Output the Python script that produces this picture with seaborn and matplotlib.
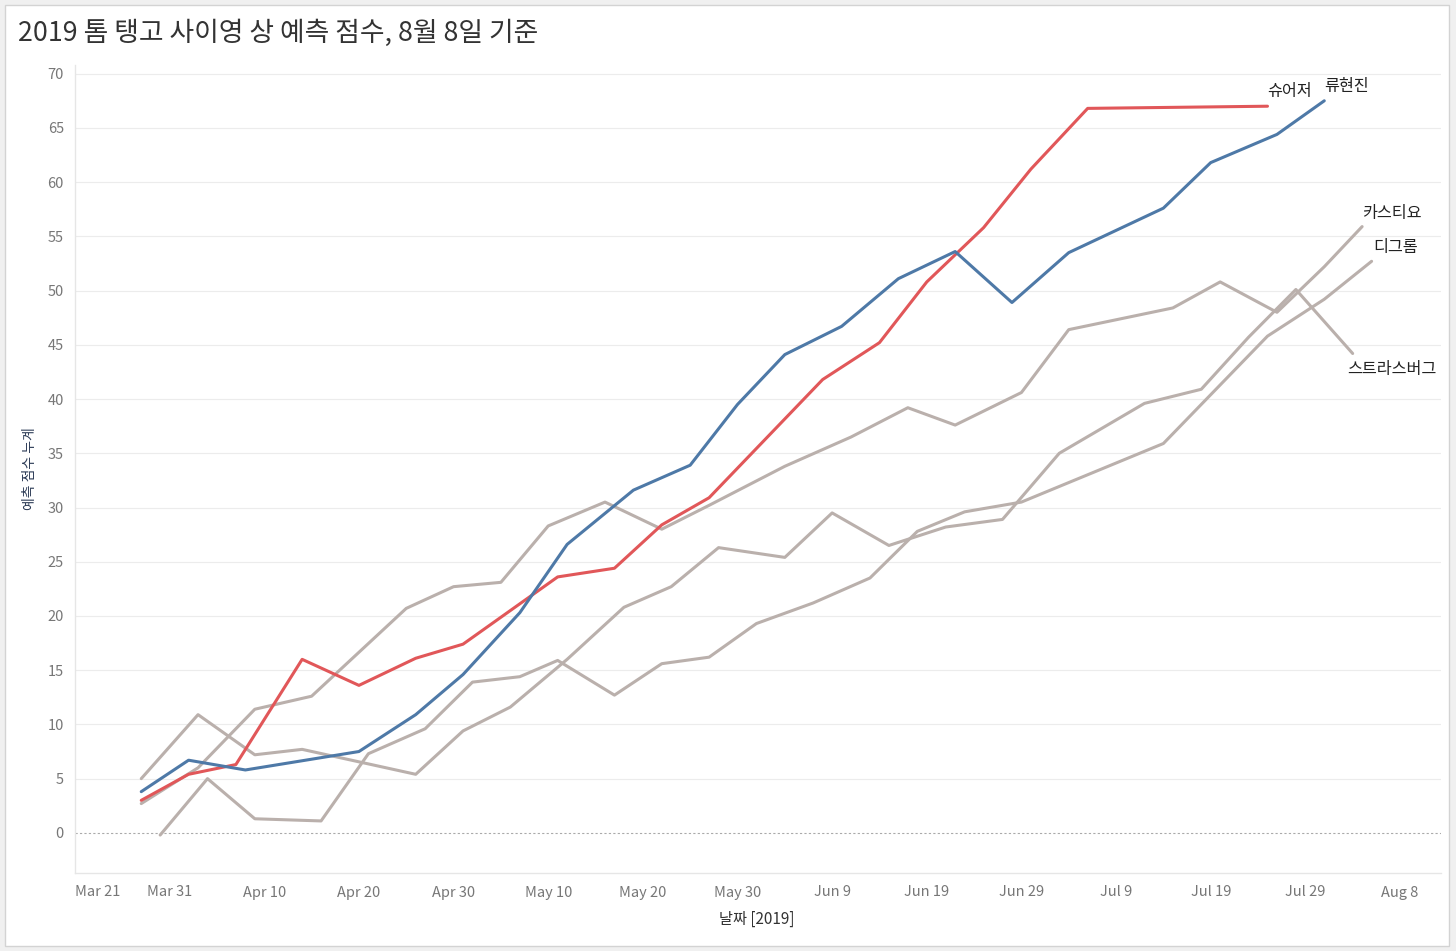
import pandas as pd
import numpy as np
import matplotlib
matplotlib.use("Agg")
import matplotlib.pyplot as plt
import matplotlib.dates as mdates
import seaborn as sns
from matplotlib.patches import Rectangle

# Data (cumulative Cy Young predictor score)
ryu_dates = ["2019-03-28", "2019-04-02", "2019-04-08", "2019-04-20", "2019-04-26", "2019-05-01",
             "2019-05-07", "2019-05-12", "2019-05-19", "2019-05-25", "2019-05-30", "2019-06-04",
             "2019-06-10", "2019-06-16", "2019-06-22", "2019-06-28", "2019-07-04", "2019-07-14",
             "2019-07-19", "2019-07-26", "2019-07-31"]
ryu_scores = [3.8, 6.7, 5.8, 7.5, 10.9, 14.6, 20.3, 26.6, 31.6, 33.9, 39.5, 44.1,
              46.7, 51.1, 53.6, 48.9, 53.5, 57.6, 61.8, 64.4, 67.5]

scherzer_dates = ["2019-03-28", "2019-04-02", "2019-04-07", "2019-04-14", "2019-04-20", "2019-04-26",
                  "2019-05-01", "2019-05-11", "2019-05-17", "2019-05-22", "2019-05-27", "2019-06-08",
                  "2019-06-14", "2019-06-19", "2019-06-25", "2019-06-30", "2019-07-06", "2019-07-25"]
scherzer_scores = [3.0, 5.4, 6.3, 16.0, 13.6, 16.1, 17.4, 23.6, 24.4, 28.4, 30.9, 41.8,
                   45.2, 50.8, 55.8, 61.2, 66.8, 67.0]

castillo_dates = ["2019-03-28", "2019-04-03", "2019-04-09", "2019-04-15", "2019-04-25", "2019-04-30",
                  "2019-05-05", "2019-05-10", "2019-05-16", "2019-05-22", "2019-05-27", "2019-06-04",
                  "2019-06-11", "2019-06-17", "2019-06-22", "2019-06-29", "2019-07-04", "2019-07-15",
                  "2019-07-20", "2019-07-26", "2019-07-31", "2019-08-04"]
castillo_scores = [2.7, 6.0, 11.4, 12.6, 20.7, 22.7, 23.1, 28.3, 30.5, 28.0, 30.2, 33.8,
                   36.5, 39.2, 37.6, 40.6, 46.4, 48.4, 50.8, 48.0, 52.2, 55.9]

degrom_dates = ["2019-03-30", "2019-04-04", "2019-04-09", "2019-04-16", "2019-04-21", "2019-04-27",
                "2019-05-02", "2019-05-07", "2019-05-11", "2019-05-17", "2019-05-22", "2019-05-27",
                "2019-06-01", "2019-06-07", "2019-06-13", "2019-06-18", "2019-06-23", "2019-06-29",
                "2019-07-14", "2019-07-25", "2019-07-31", "2019-08-05"]
degrom_scores = [-0.2, 5.0, 1.3, 1.1, 7.3, 9.6, 13.9, 14.4, 15.9, 12.7, 15.6, 16.2,
                 19.3, 21.2, 23.5, 27.8, 29.6, 30.5, 35.9, 45.8, 49.2, 52.7]

strasburg_dates = ["2019-03-28", "2019-04-03", "2019-04-09", "2019-04-14", "2019-04-26", "2019-05-01",
                   "2019-05-06", "2019-05-12", "2019-05-18", "2019-05-23", "2019-05-28", "2019-06-04",
                   "2019-06-09", "2019-06-15", "2019-06-21", "2019-06-27", "2019-07-03", "2019-07-12",
                   "2019-07-18", "2019-07-23", "2019-07-28", "2019-08-03"]
strasburg_scores = [5.0, 10.9, 7.2, 7.7, 5.4, 9.4, 11.6, 16.0, 20.8, 22.7, 26.3, 25.4,
                    29.5, 26.5, 28.2, 28.9, 35.0, 39.6, 40.9, 45.7, 50.1, 44.2]

pitchers = ["카스티요", "디그롬", "스트라스버그", "슈어저", "류현진"]
series = {
    "류현진": (ryu_dates, ryu_scores),
    "슈어저": (scherzer_dates, scherzer_scores),
    "카스티요": (castillo_dates, castillo_scores),
    "디그롬": (degrom_dates, degrom_scores),
    "스트라스버그": (strasburg_dates, strasburg_scores),
}
palette = {"류현진": "#4e79a7", "슈어저": "#e15759",
           "카스티요": "#bab0ac", "디그롬": "#bab0ac", "스트라스버그": "#bab0ac"}

# label offsets in pixels from the last point
label_offsets = {"류현진": (0, 6, "bottom"), "슈어저": (0, 6, "bottom"),
                 "카스티요": (0, 5, "bottom"), "디그롬": (2, 5, "bottom"),
                 "스트라스버그": (-5, -8, "top")}

frames = []
for name in pitchers:
    d, s = series[name]
    frames.append(pd.DataFrame({"date": pd.to_datetime(d), "score": s, "pitcher": name}))
df = pd.concat(frames, ignore_index=True)

sns.set_theme(style="white")
plt.rcParams["font.family"] = ["Noto Sans CJK KR", "DejaVu Sans"]

fig = plt.figure(figsize=(14.56, 9.51), dpi=100)
fig.patch.set_facecolor("#f0f0f0")
fig.add_artist(Rectangle((5 / 1456, 5 / 951), 1444 / 1456, 941 / 951, transform=fig.transFigure,
                         facecolor="white", edgecolor="#d3d3d3", lw=1, zorder=0))

ax = fig.add_axes([75 / 1456, 1 - 873 / 951, 1366 / 1456, 808 / 951])
ax.set_facecolor("none")

sns.lineplot(data=df, x="date", y="score", hue="pitcher", hue_order=pitchers,
             palette=palette, estimator=None, sort=True, linewidth=2.2,
             legend=False, ax=ax)

# axis ranges
ax.set_xlim(pd.Timestamp("2019-03-21"), pd.Timestamp("2019-08-12 08:00"))
ax.set_ylim(-3.7, 70.8)

# grid and zero line
ax.set_yticks(np.arange(0, 71, 5))
for v in range(5, 71, 5):
    ax.axhline(v, color="#ececec", lw=0.8, zorder=0)
ax.axhline(0, color="#aaaaaa", lw=0.8, ls=(0, (2, 2)), zorder=0)

# x ticks every 10 days
tick_dates = pd.date_range("2019-03-21", "2019-08-08", freq="10D")
ax.set_xticks(tick_dates)
ax.xaxis.set_major_formatter(mdates.DateFormatter("%b %-d"))
ax.xaxis.set_minor_locator(mdates.DayLocator())
ax.tick_params(axis="x", which="major", length=4, color="#e0e0e0", labelsize=10.5,
               labelcolor="#777777", pad=5)
ax.tick_params(axis="x", which="minor", length=2, color="#eeeeee")
ax.tick_params(axis="y", length=4, color="#e6e6e6", labelsize=10.5, labelcolor="#777777", pad=4)
for lab in ax.get_xticklabels()[:1]:
    lab.set_horizontalalignment("left")

for side in ["top", "right"]:
    ax.spines[side].set_visible(False)
ax.spines["bottom"].set_color("#e6e6e6")
ax.spines["left"].set_color("#e6e6e6")
ax.spines["bottom"].set_linewidth(1)
ax.spines["left"].set_linewidth(1)

ax.set_xlabel("날짜 [2019]", fontsize=11, color="#333333")
ax.set_ylabel("예측 점수 누계", fontsize=10, color="#2b3a55")
ax.xaxis.set_label_coords(0.499, -0.047)
ax.yaxis.set_label_coords(-0.028, 0.5)

# end labels
for name in pitchers:
    d, s = series[name]
    dx, dy, va = label_offsets[name]
    ax.annotate(name, xy=(pd.Timestamp(d[-1]), s[-1]), xytext=(dx, dy),
                textcoords="offset pixels", ha="left", va=va,
                fontsize=11.7, color="#222222")

fig.text(18 / 1456, 1 - 33 / 951, "2019 톰 탱고 사이영 상 예측 점수, 8월 8일 기준",
         fontsize=19.3, color="#333333", ha="left", va="center")

fig.savefig("out.png", dpi=100, facecolor=fig.get_facecolor())
